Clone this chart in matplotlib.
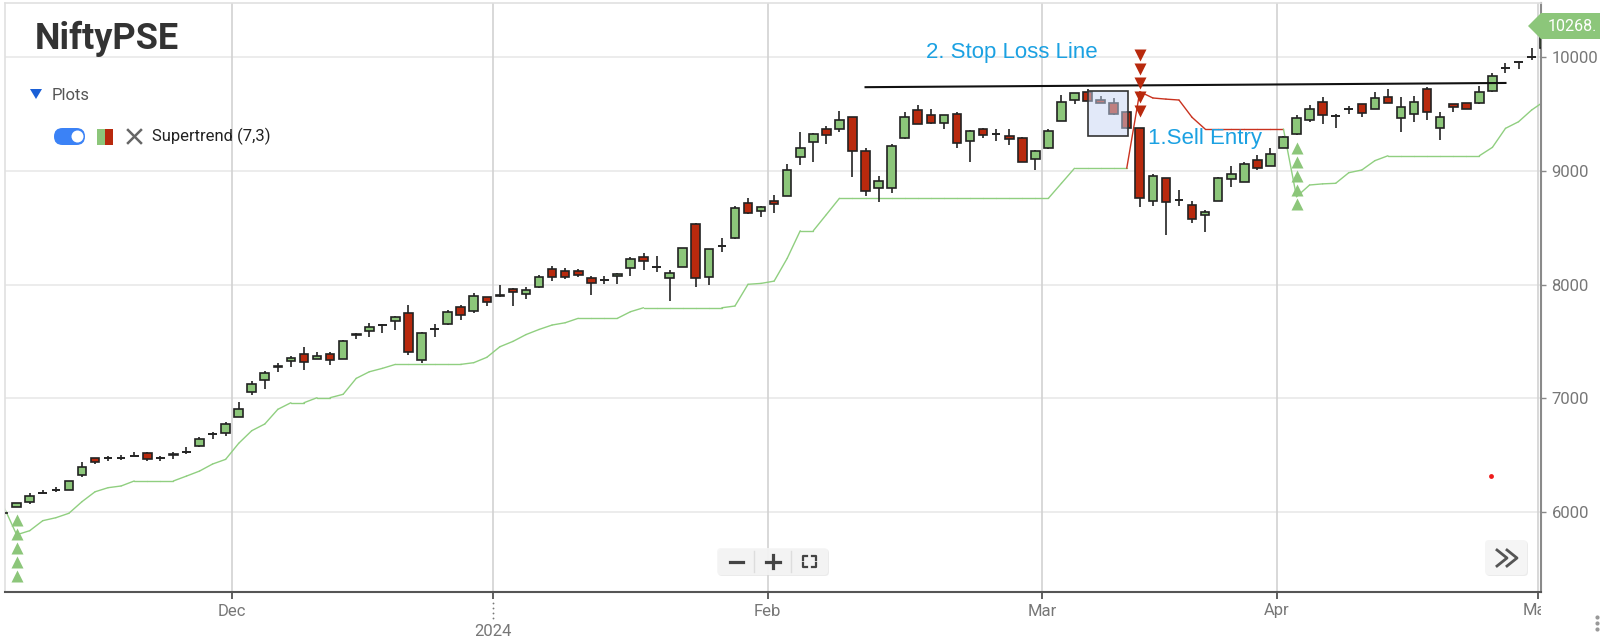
import matplotlib
matplotlib.use("Agg")
import matplotlib.pyplot as plt
import matplotlib.transforms as mtransforms
from matplotlib.patches import Rectangle, FancyBboxPatch, Polygon, Circle
from matplotlib.lines import Line2D

plt.rcParams['font.family'] = ['Roboto', 'DejaVu Sans']

#-- data (one candle per trading day, index = position)
title = "NiftyPSE"
opens = [5990, 6045, 6091, 6170, 6194, 6194, 6323, 6472, 6472, 6478,
         6492, 6522, 6472, 6508, 6530, 6580, 6683, 6697, 6838, 7052,
         7160, 7278, 7327, 7386, 7348, 7386, 7348, 7560, 7594, 7648,
         7679, 7752, 7336, 7606, 7653, 7800, 7764, 7888, 7902, 7963,
         7919, 7981, 8136, 8119, 8122, 8060, 8040, 8076, 8142, 8245,
         8151, 8060, 8157, 8529, 8069, 8338, 8409, 8714, 8649, 8734,
         8781, 9118, 9250, 9364, 9364, 9469, 9176, 8846, 8846, 9285,
         9534, 9490, 9423, 9496, 9264, 9364, 9323, 9305, 9291, 9103,
         9197, 9437, 9622, 9690, 9622, 9593, 9519, 9373, 8734, 8934,
         8743, 8699, 8611, 8734, 8928, 8904, 9095, 9042, 9203, 9323,
         9446, 9607, 9484, 9540, 9584, 9543, 9646, 9461, 9496, 9719,
         9373, 9587, 9593, 9593, 9701, 9901, 9954, 9997, 10080]
highs = [6008, 6082, 6164, 6193, 6217, 6276, 6442, 6474, 6495, 6500,
         6530, 6525, 6495, 6530, 6574, 6662, 6706, 6794, 6970, 7154,
         7242, 7313, 7371, 7448, 7409, 7409, 7512, 7576, 7660, 7653,
         7726, 7820, 7585, 7653, 7776, 7820, 7928, 7890, 8000, 7972,
         7975, 8084, 8165, 8148, 8136, 8075, 8075, 8099, 8239, 8274,
         8251, 8128, 8320, 8538, 8312, 8406, 8690, 8765, 8690, 8787,
         9059, 9343, 9329, 9393, 9525, 9472, 9203, 8957, 9233, 9514,
         9578, 9540, 9492, 9519, 9358, 9373, 9367, 9364, 9295, 9180,
         9364, 9666, 9685, 9716, 9657, 9642, 9522, 9375, 8969, 8936,
         8831, 8734, 8655, 8948, 9044, 9080, 9138, 9197, 9305, 9490,
         9578, 9651, 9502, 9572, 9586, 9695, 9719, 9646, 9660, 9739,
         9519, 9590, 9595, 9745, 9857, 9945, 9960, 10076, 10290]
lows = [5978, 6040, 6068, 6166, 6176, 6192, 6310, 6419, 6449, 6455,
        6490, 6451, 6449, 6463, 6510, 6569, 6642, 6668, 6836, 7029,
        7084, 7233, 7272, 7248, 7343, 7292, 7346, 7518, 7541, 7576,
        7600, 7380, 7307, 7541, 7641, 7688, 7747, 7811, 7888, 7811,
        7870, 7967, 8033, 8048, 8063, 7908, 8004, 8004, 8078, 8128,
        8107, 7858, 8155, 7981, 7996, 8283, 8400, 8622, 8596, 8631,
        8779, 9051, 9074, 9235, 9343, 8948, 8778, 8728, 8802, 9283,
        9409, 9408, 9364, 9197, 9080, 9285, 9264, 9226, 9074, 9007,
        9195, 9435, 9587, 9610, 9596, 9494, 9367, 8684, 8693, 8435,
        8693, 8538, 8464, 8732, 8860, 8900, 9007, 9040, 9200, 9314,
        9426, 9408, 9373, 9496, 9475, 9541, 9593, 9338, 9431, 9446,
        9270, 9519, 9541, 9590, 9690, 9857, 9895, 9974, 10060]
closes = [5992, 6077, 6144, 6170, 6194, 6273, 6398, 6437, 6472, 6478,
          6492, 6463, 6472, 6502, 6530, 6639, 6683, 6774, 6906, 7125,
          7225, 7286, 7351, 7322, 7371, 7336, 7506, 7568, 7623, 7648,
          7717, 7407, 7571, 7606, 7761, 7729, 7899, 7849, 7908, 7937,
          7949, 8069, 8069, 8069, 8084, 8011, 8040, 8090, 8222, 8207,
          8151, 8099, 8318, 8060, 8309, 8338, 8675, 8626, 8684, 8708,
          9007, 9200, 9320, 9314, 9446, 9176, 8822, 8907, 9215, 9475,
          9411, 9423, 9490, 9241, 9350, 9314, 9323, 9276, 9080, 9176,
          9350, 9607, 9681, 9613, 9598, 9496, 9373, 8758, 8957, 8723,
          8743, 8573, 8640, 8934, 8969, 9057, 9022, 9145, 9299, 9461,
          9543, 9490, 9484, 9540, 9510, 9642, 9593, 9558, 9607, 9519,
          9470, 9558, 9543, 9695, 9833, 9901, 9954, 9997, 10268]
# Supertrend (7,3) value under / over each candle
supertrend = [6050, 5800, 5836, 5924, 5950, 5989, 6091, 6178, 6214, 6229,
              6273, 6273, 6273, 6273, 6316, 6360, 6422, 6463, 6604, 6715,
              6774, 6903, 6961, 6961, 7005, 7005, 7035, 7175, 7233, 7263,
              7298, 7298, 7298, 7298, 7298, 7298, 7313, 7360, 7453, 7500,
              7560, 7605, 7644, 7664, 7703, 7703, 7703, 7703, 7761, 7796,
              7796, 7796, 7796, 7796, 7796, 7796, 7811, 8002, 8010, 8030,
              8230, 8473, 8473, 8615, 8758, 8758, 8758, 8758, 8758, 8758,
              8758, 8758, 8758, 8758, 8758, 8758, 8758, 8758, 8758, 8758,
              8758, 8890, 9022, 9022, 9022, 9022, 9022, 9695, 9640, 9630,
              9622, 9470, 9367, 9367, 9367, 9367, 9367, 9367, 9367, 8772,
              8875, 8885, 8890, 8983, 9007, 9089, 9132, 9132, 9132, 9132,
              9132, 9132, 9132, 9132, 9206, 9373, 9431, 9534, 9613]

month_pos = [17.5, 37.5, 58.5, 79.5, 97.5, 117.5]
month_labels = ["Dec", "", "Feb", "Mar", "Apr", "May"]
year_pos = 37.5
year_label = "2024"
price_ticks = [6000, 7000, 8000, 9000, 10000]

stop_idx = [66, 115]
stop_val = [9735, 9772]
box_idx = [83.05, 86.07]
box_val = [9306, 9704]
last_price = "10268."
dot_idx = [113.9]
dot_val = [6314]

#-- colours
GREEN = '#8cc67a'
RED = '#b8290d'
ST_GREEN = '#90cf80'
ST_RED = '#c9321f'
EDGE = '#222222'
NOTE = '#1ba1e2'

W, H = 1600, 643
fig = plt.figure(figsize=(W / 100, H / 100), dpi=100)
fig.patch.set_facecolor('white')
# pixel coords (origin top-left) for the screen widgets
pix = mtransforms.Affine2D().scale(1, -1).translate(0, H)

ax = fig.add_axes([5 / W, 1 - 592 / H, 1536 / W, 589 / H])
ax.set_xlim(0.107, 117.72)
ax.set_ylim(5297, 10475)
ax.set_facecolor('white')

for s in ['top', 'left']:
    ax.spines[s].set_color('#e0e0e0')
    ax.spines[s].set_linewidth(1.2)
ax.spines['right'].set_color('#8a8a8a')
ax.spines['right'].set_linewidth(1.5)
ax.spines['bottom'].set_color('#555555')
ax.spines['bottom'].set_linewidth(1.5)

for p in price_ticks:
    ax.axhline(p, color='#ebebeb', lw=1.3, zorder=0)
for m in month_pos:
    ax.axvline(m, color='#d2d2d2', lw=1.2, zorder=0)

#-- candles
bw = 0.66
for i in range(len(opens)):
    o, h, l, c = opens[i], highs[i], lows[i], closes[i]
    ax.vlines(i, l, h, color=EDGE, lw=1.2, zorder=3)
    if o == c:
        ax.hlines(o, i - bw / 2, i + bw / 2, color=EDGE, lw=1.4, zorder=4)
    else:
        col = GREEN if c > o else RED
        ax.add_patch(Rectangle((i - bw / 2, min(o, c)), bw, abs(c - o),
                               facecolor=col, edgecolor=EDGE, lw=1.2, zorder=4))

#-- supertrend line, coloured by trend
trend = [1 if supertrend[i] < closes[i] else -1 for i in range(len(closes))]
for i in range(1, len(supertrend)):
    ax.plot([i - 1, i], [supertrend[i - 1], supertrend[i]],
            color=ST_GREEN if trend[i] > 0 else ST_RED, lw=1.0, zorder=2,
            solid_capstyle='round')

# buy / sell signals: five stacked triangles where the trend flips
ppx = (ax.get_ylim()[1] - ax.get_ylim()[0]) / 589.0
for i in range(1, len(trend)):
    if trend[i] != trend[i - 1]:
        if trend[i] > 0:
            ax.plot([i] * 5, [lows[i] - (13 + 14 * k) * ppx for k in range(5)],
                    ls='none', marker='^', ms=8, color=GREEN, mec='none', zorder=6)
        else:
            ax.plot([i] * 5, [highs[i] + (17 + 14 * k) * ppx for k in range(5)],
                    ls='none', marker='v', ms=8, color=RED, mec='none', zorder=6)

#-- stop loss line and highlighted box
ax.plot(stop_idx, stop_val, color='#111111', lw=1.5, zorder=5)
ax.add_patch(Rectangle((box_idx[0], box_val[0]), box_idx[1] - box_idx[0],
                       box_val[1] - box_val[0], facecolor='#c6d5f4', alpha=0.5,
                       edgecolor='none', zorder=5))
ax.add_patch(Rectangle((box_idx[0], box_val[0]), box_idx[1] - box_idx[0],
                       box_val[1] - box_val[0], facecolor='none',
                       edgecolor='#333333', lw=1.2, zorder=5))

ax.text(70.6, 10038, "2. Stop Loss Line", fontsize=16, color=NOTE,
        family=['Liberation Sans', 'DejaVu Sans'], va='center', ha='left', zorder=7)
ax.text(87.6, 9288, "1.Sell Entry", fontsize=16, color=NOTE,
        family=['Liberation Sans', 'DejaVu Sans'], va='center', ha='left', zorder=7)

ax.plot(dot_idx, dot_val, 'o', ms=3.5, color='#ee1c1c', mec='none', zorder=6)

#-- axes ticks
ax.yaxis.tick_right()
ax.set_yticks(price_ticks)
ax.set_yticklabels([str(p) for p in price_ticks])
ax.tick_params(axis='y', length=3.6, width=1, color='#888888', labelcolor='#777777',
               labelsize=12, pad=4)
ax.set_xticks(month_pos)
ax.set_xticklabels([])
ax.tick_params(axis='x', length=5, width=1.2, color='#444444')

xlab = mtransforms.blended_transform_factory(ax.transData, fig.transFigure)
clip = mtransforms.TransformedBbox(mtransforms.Bbox([[0, 0], [1541 / W, 1]]), fig.transFigure)
for pos, lbl in zip(month_pos, month_labels):
    t = fig.text(pos, 1 - 611 / H, lbl, transform=xlab, ha='center', va='center',
                 fontsize=12, color='#777777')
    t.set_clip_box(clip)
    t.set_clip_on(True)
fig.text(year_pos, 1 - 631 / H, year_label, transform=xlab, ha='center', va='center',
         fontsize=12, color='#777777')
fig.add_artist(Line2D([year_pos] * 4, [1 - y / H for y in (603, 608, 613, 618)],
                      transform=xlab, ls='none', marker='o', ms=1.3, color='#777777',
                      mec='none'))

#-- title and legend panel
fig.add_artist(Rectangle((22, 5), 175, 51, transform=pix, fc='white', ec='none'))
fig.text(35, 49.3, title, transform=pix, fontsize=26, fontweight='bold',
         color='#333333', ha='left', va='baseline')
fig.add_artist(Polygon([(30, 89), (42, 89), (36, 99)], closed=True, transform=pix,
                       fc='#1a5fd6', ec='none'))
fig.text(52, 95, "Plots", transform=pix, fontsize=12, color='#555555',
         ha='left', va='center')
fig.add_artist(FancyBboxPatch((54, 128), 31, 17, boxstyle="round,pad=0,rounding_size=8.5",
                              transform=pix, fc='#3b82f6', ec='none'))
fig.add_artist(Circle((77.5, 136.5), 6, transform=pix, fc='white', ec='none'))
fig.add_artist(Rectangle((97, 129), 8, 16, transform=pix, fc=GREEN, ec='none'))
fig.add_artist(Rectangle((105, 129), 8, 16, transform=pix, fc=RED, ec='none'))
fig.add_artist(Line2D([128, 141], [130, 143], transform=pix, color='#666666', lw=1.8))
fig.add_artist(Line2D([128, 141], [143, 130], transform=pix, color='#666666', lw=1.8))
fig.text(152, 136, "Supertrend (7,3)", transform=pix, fontsize=12, color='#222222',
         ha='left', va='center')

#-- last price tag
fig.add_artist(Polygon([(1528, 26), (1541, 13), (1600, 13), (1600, 39), (1541, 39)],
                       closed=True, transform=pix, fc=GREEN, ec='none'))
fig.text(1548, 26.5, last_price, transform=pix, fontsize=11.5, color='white',
         ha='left', va='center')

#-- zoom controls
fig.add_artist(FancyBboxPatch((718, 549), 111, 27, boxstyle="round,pad=0,rounding_size=4",
                              transform=pix, fc='#d8d8d8', ec='none', alpha=0.5))
fig.add_artist(FancyBboxPatch((717, 548), 111, 27, boxstyle="round,pad=0,rounding_size=4",
                              transform=pix, fc='#f5f5f5', ec='none', alpha=0.88))
for xs in (754, 791):
    fig.add_artist(Line2D([xs, xs], [551, 572], transform=pix, color='#dddddd', lw=1))
fig.add_artist(Line2D([730, 743], [561.5, 561.5], transform=pix, color='#444444', lw=2.3))
fig.add_artist(Line2D([766, 780], [561.5, 561.5], transform=pix, color='#444444', lw=2.3))
fig.add_artist(Line2D([773, 773], [555, 568], transform=pix, color='#444444', lw=2.3))
for cx, cy, dx, dy in [(803, 556, 1, 1), (816, 556, -1, 1), (803, 567, 1, -1), (816, 567, -1, -1)]:
    fig.add_artist(Line2D([cx + 4 * dx, cx, cx], [cy, cy, cy + 4 * dy], transform=pix,
                          color='#444444', lw=1.6))

#-- scroll button
fig.add_artist(FancyBboxPatch((1486, 541), 42, 35, boxstyle="round,pad=0,rounding_size=4",
                              transform=pix, fc='#d8d8d8', ec='none', alpha=0.5))
fig.add_artist(FancyBboxPatch((1485, 540), 42, 35, boxstyle="round,pad=0,rounding_size=4",
                              transform=pix, fc='#f5f5f5', ec='none'))
for x0 in (1497, 1507):
    fig.add_artist(Line2D([x0, x0 + 10, x0], [550, 558, 566], transform=pix,
                          color='#555555', lw=2.0))

# menu dots bottom right
fig.add_artist(Line2D([1597] * 3, [617, 623, 629], transform=pix, ls='none', marker='o',
                      ms=3, color='#999999', mec='none'))

fig.savefig("out.png", dpi=100, facecolor='white')
